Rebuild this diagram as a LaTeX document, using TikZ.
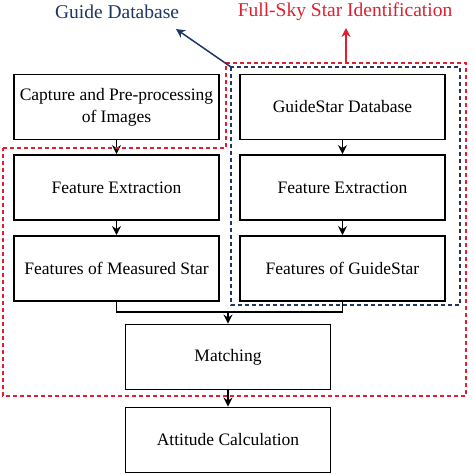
\documentclass[tikz,border=0pt]{standalone}
\usepackage{fontspec}
\setmainfont{Liberation Serif}
\usetikzlibrary{arrows.meta}

\definecolor{navyblue}{RGB}{30,55,100}
\definecolor{idred}{RGB}{225,30,45}

\tikzset{
    stepbox/.style={draw, line width=1.8pt, minimum width=205pt, minimum height=65pt,
        align=center, font=\fontsize{17.5}{22}\selectfont, inner sep=2pt},
    flow/.style={-{Stealth[length=9pt,width=9pt]}, line width=1.5pt},
    region/.style={dashed, dash pattern=on 4pt off 3pt, line width=1.7pt},
}

\begin{document}
\begin{tikzpicture}[x=1pt, y=-1pt]
    \useasboundingbox (0,0) rectangle (474,474);
    % boxes
    \node[stepbox] (capture) at (116.5,107) {Capture and Pre-processing\\of Images};
    \node[stepbox] (gsdb)    at (342.5,107) {GuideStar Database};
    \node[stepbox] (fextl)   at (116.5,187.5) {Feature Extraction};
    \node[stepbox] (fextr)   at (342.5,187.5) {Feature Extraction};
    \node[stepbox] (fmeas)   at (116.5,268.5) {Features of Measured Star};
    \node[stepbox] (fguide)  at (342.5,268.5) {Features of GuideStar};
    \node[stepbox] (match)   at (228,357) {Matching};
    \node[stepbox] (att)     at (228,440) {Attitude Calculation};
    \coordinate (join) at (228,312);
    % connectors
    \draw[flow] (capture) -- (fextl);
    \draw[flow] (fextl) -- (fmeas);
    \draw[flow] (gsdb) -- (fextr);
    \draw[flow] (fextr) -- (fguide);
    \draw[line width=1.5pt] (fmeas.south) |- (join) -| (fguide.south);
    \draw[flow] (join) -- (match);
    \draw[flow] (match) -- (att);
    % dashed regions
    \draw[region, idred] (3,148) -- (226,148) -- (226,63) -- (466,63) -- (466,396) -- (3,396) -- cycle;
    \draw[region, navyblue] (231,67) rectangle (460,305);
    % labels
    \node[text=navyblue, font=\fontsize{19.5}{24}\selectfont] (gdlabel) at (117,12) {Guide Database};
    \node[text=idred, font=\fontsize{19.5}{24}\selectfont] (fslabel) at (345,12) {Full-Sky Star Identification};
    \coordinate (bluecorner) at (231,67);
    \coordinate (redtop) at (346,63);
    \draw[flow, navyblue] (bluecorner) -- (176,29);
    \draw[flow, idred] (redtop) -- (346,28);
\end{tikzpicture}
\end{document}
